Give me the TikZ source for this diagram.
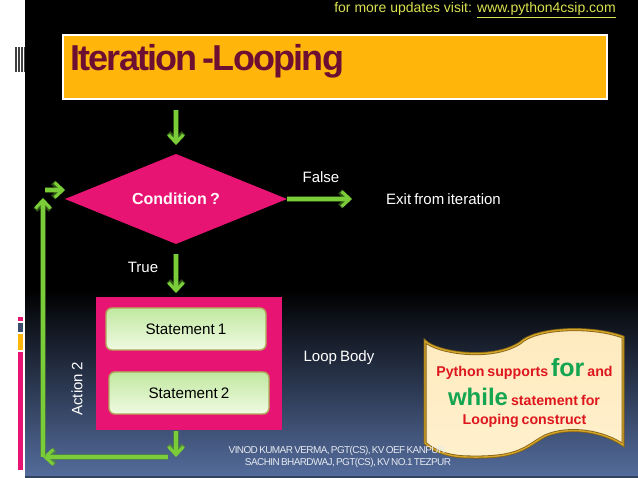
\documentclass[tikz,border=0pt]{standalone}
\usepackage{fontspec}
\setmainfont[WordSpace=0.75]{Liberation Sans}
\newfontfamily\titlefont[LetterSpace=-5,WordSpace=0.6]{Liberation Sans}
\newfontfamily\footfont[LetterSpace=-6,WordSpace=0.6]{Liberation Sans}
\newfontfamily\visitfont{Liberation Sans}
\usetikzlibrary{shapes,arrows.meta}
\definecolor{panelblue}{RGB}{84,108,156}
\definecolor{titleorange}{RGB}{255,181,10}
\definecolor{titlered}{RGB}{108,15,50}
\definecolor{flowpink}{RGB}{232,20,115}
\definecolor{flowgreen}{RGB}{122,204,56}
\definecolor{glowgreen}{RGB}{84,150,40}
\definecolor{linkyellow}{RGB}{218,226,80}
\definecolor{noteborder}{RGB}{214,165,40}
\definecolor{notetop}{RGB}{255,234,190}
\definecolor{notemid}{RGB}{255,214,148}
\definecolor{notelow}{RGB}{255,240,205}
\definecolor{notered}{RGB}{222,22,30}
\definecolor{notegreen}{RGB}{20,165,80}
\definecolor{stattop}{RGB}{192,232,160}
\definecolor{statmid}{RGB}{226,246,206}
\definecolor{statlow}{RGB}{240,250,226}
\definecolor{statedge}{RGB}{176,170,90}
\begin{document}
\begin{tikzpicture}[x=1pt,y=-1pt]

\tikzstyle{flow}=[draw=flowgreen,line width=3.2pt,-{Straight Barb[length=8pt,width=15pt,line width=3.2pt]},
  preaction={draw=glowgreen,draw opacity=.55,line width=5.4pt,-{Straight Barb[length=8pt,width=15pt,line width=5.4pt]}}]
\tikzstyle{label}=[text=white,font=\fontsize{15}{18}\selectfont,inner sep=0pt]
\tikzstyle{statement}=[rectangle,rounded corners=6pt,draw=statedge,line width=1.4pt,top color=stattop,middle color=statmid,bottom color=statlow,
  minimum width=160pt,minimum height=42pt,inner sep=0pt,text=black,font=\fontsize{15.2}{18}\selectfont]
\tikzstyle{footer}=[text=white!85!panelblue,font=\footfont\fontsize{10}{12}\selectfont,inner sep=0pt]
\tikzstyle{noteline}=[text=notered,font=\bfseries\fontsize{14.2}{17}\selectfont,inner sep=0pt]
\useasboundingbox (0,0) rectangle (638,478);

%panel
\fill[white] (0,0) rectangle (638,478);
\fill[black] (25,0) rectangle (638,291);
\shade[top color=black,middle color=panelblue!30!black,bottom color=panelblue] (25,290) rectangle (638,476);
\fill[panelblue!60!black] (25,476) rectangle (638,478);

%side marks
\fill[black!75] (15,47) rectangle (17,72);
\fill[black!75] (18,47) rectangle (20,72);
\fill[black!75] (21,47) rectangle (23,72);
\fill[black!75] (24,47) rectangle (25,72);
\fill[flowpink] (18,317) rectangle (23,321);
\fill[panelblue!70!black] (18,323) rectangle (23,332);
\fill[titleorange] (18,334) rectangle (23,350);
\fill[flowpink] (18,352) rectangle (23,470);

%title
\node[text=linkyellow,font=\visitfont\fontsize{14}{16}\selectfont,inner sep=0pt] (visit) at (475,10) {for more updates visit: \underline{www.python4csip.com}};
\node[rectangle,fill=titleorange,draw=white,line width=2pt,minimum width=544pt,minimum height=64pt,inner sep=0pt] (title) at (335,67) {};
\node[text=titlered,font=\titlefont\bfseries\fontsize{36}{40}\selectfont,inner sep=0pt,anchor=base west] (titletext) at (70,71) {Iteration -Looping};

%flow
\node[diamond,fill=flowpink,minimum width=222pt,minimum height=90pt,aspect=2.47,inner sep=0pt,outer sep=0pt,text=white!92!pink,font=\bfseries\fontsize{16}{18}\selectfont] (cond) at (176,199) {Condition ?};
\node[label] (false) at (321,177) {False};
\node[label] (exit) at (443.5,199) {Exit from iteration};
\node[label] (true) at (143,267) {True};
\node[rectangle,fill=flowpink,minimum width=186pt,minimum height=133pt,inner sep=0pt,outer sep=0pt] (body) at (189,363.5) {};
\node[statement] (st1) at (186,329) {Statement 1};
\node[statement] (st2) at (189,393) {Statement 2};
\node[label,rotate=90] (action) at (77,389) {Action 2};
\node[label] (loopbody) at (339,358) {Loop Body};

\coordinate (titleout) at (176,110);
\coordinate (condin) at (176,145);
\coordinate (condout) at (176,254);
\coordinate (bodyin) at (176,293);
\coordinate (bodyout) at (176,431);
\coordinate (bodyend) at (176,457);
\coordinate (backstart) at (168,457);
\coordinate (backend) at (43,457);
\coordinate (backup) at (43,198);
\coordinate (entrystart) at (45,190);
\coordinate (entryend) at (65,190);
\coordinate (exitend) at (352,199);

%connections
\draw[flow] (titleout) -- (condin);
\draw[flow] (cond.east) -- (exitend);
\draw[flow] (condout) -- (bodyin);
\draw[flow] (bodyout) -- (bodyend);
\draw[flow] (backstart) -- (backend);
\draw[flow] (backend) -- (backup);
\draw[flow] (entrystart) -- (entryend);

%note
\draw[draw=noteborder!60!black,line width=3pt,top color=notetop,middle color=notemid,bottom color=notelow]
  (425,341) .. controls (435,352) and (490,362) .. (520,343)
  .. controls (535,328) and (590,325) .. (623,337)
  -- (623,445) .. controls (605,432) and (570,425) .. (545,436)
  .. controls (525,447) and (520,458) .. (470,457)
  .. controls (450,457) and (435,452) .. (425,443) -- cycle;
\draw[draw=noteborder,line width=1.4pt]
  (425,341) .. controls (435,352) and (490,362) .. (520,343)
  .. controls (535,328) and (590,325) .. (623,337)
  -- (623,445) .. controls (605,432) and (570,425) .. (545,436)
  .. controls (525,447) and (520,458) .. (470,457)
  .. controls (450,457) and (435,452) .. (425,443) -- cycle;
\node[footer] (footone) at (337,451) {VINOD KUMAR VERMA, PGT(CS), KV OEF KANPUR};
\node[footer] (foottwo) at (348,463) {SACHIN BHARDWAJ, PGT(CS), KV NO.1 TEZPUR};
\node[noteline] (noteone) at (524.5,369) {Python supports \textcolor{notegreen}{\fontsize{25}{28}\selectfont for} and};
\node[noteline] (notetwo) at (524,397) {\textcolor{notegreen}{\fontsize{24}{28}\selectfont while} statement for};
\node[noteline] (notethree) at (524.5,421) {Looping construct};

\end{tikzpicture}
\end{document}
